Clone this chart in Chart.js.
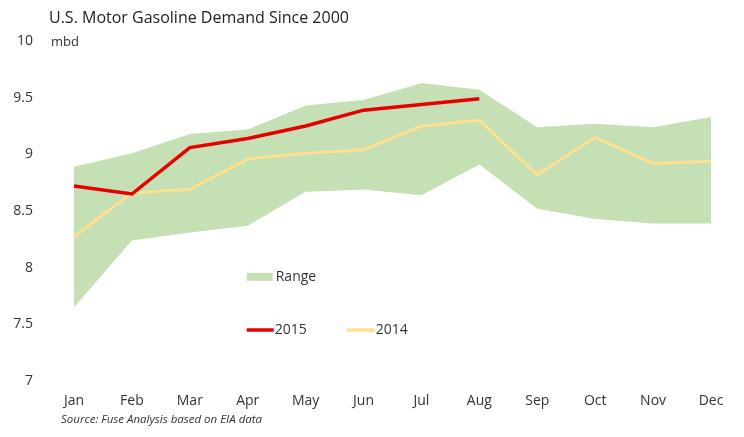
<!DOCTYPE html>
<html>
<head>
<meta charset="utf-8">
<script src="https://cdn.jsdelivr.net/npm/chart.js@4"></script>
<style>
  body { margin: 0; background: #fff; }
  #wrap { position: relative; width: 744px; height: 437px; }
  #title { position: absolute; left: 49px; top: 6px; font: 16px "Open Sans", sans-serif; color: #222; }
  #unit { position: absolute; left: 51px; top: 32px; font: 13px "Open Sans", sans-serif; color: #333; }
  #source { position: absolute; left: 61px; top: 411px; font: italic 11.5px "Open Sans", sans-serif; color: #333; }
</style>
</head>
<body>
<div id="wrap">
  <canvas id="myChart" width="744" height="437"></canvas>
  <div id="title">U.S. Motor Gasoline Demand Since 2000</div>
  <div id="unit">mbd</div>
  <div id="source">Source: Fuse Analysis based on EIA data</div>
</div>
<script>
let months = ["Jan", "Feb", "Mar", "Apr", "May", "Jun", "Jul", "Aug", "Sep", "Oct", "Nov", "Dec"];
let rangeMax = [8.89, 9.01, 9.18, 9.22, 9.43, 9.48, 9.63, 9.57, 9.24, 9.27, 9.24, 9.33];
let rangeMin = [7.65, 8.24, 8.31, 8.37, 8.67, 8.69, 8.64, 8.91, 8.52, 8.43, 8.39, 8.39];
let demand2015 = [8.72, 8.65, 9.06, 9.14, 9.25, 9.39, 9.44, 9.49];
let demand2014 = [8.27, 8.66, 8.69, 8.96, 9.01, 9.04, 9.25, 9.30, 8.82, 9.15, 8.92, 8.94];

let green = "#c5e0b4";
let red = "#e60000";
let yellow = "#ffe08f";
let font = { family: "'Open Sans', sans-serif", size: 14 };

// legend drawn inside the plot area, anchored to the scales
let insideLegend = {
  id: "insideLegend",
  afterDraw(chart) {
    let ctx = chart.ctx;
    let x = chart.scales.x.getPixelForValue(3) - 1;
    let yRange = chart.scales.y.getPixelForValue(7.92);
    let yLines = chart.scales.y.getPixelForValue(7.45);
    ctx.save();
    ctx.font = "14px 'Open Sans', sans-serif";
    ctx.textBaseline = "middle";

    ctx.fillStyle = green;
    ctx.fillRect(x, yRange - 4, 26, 8);
    ctx.fillStyle = "#333";
    ctx.fillText("Range", x + 29, yRange);

    ctx.lineWidth = 3.5;
    ctx.strokeStyle = red;
    ctx.beginPath();
    ctx.moveTo(x, yLines);
    ctx.lineTo(x + 27, yLines);
    ctx.stroke();
    ctx.fillText("2015", x + 28, yLines);

    ctx.strokeStyle = yellow;
    ctx.beginPath();
    ctx.moveTo(x + 100, yLines);
    ctx.lineTo(x + 128, yLines);
    ctx.stroke();
    ctx.fillText("2014", x + 129, yLines);
    ctx.restore();
  },
};

let ctx = document.getElementById("myChart").getContext("2d");
let myChart = new Chart(ctx, {
  type: "line",
  data: {
    labels: months,
    datasets: [
      {
        label: "Range",
        data: rangeMax,
        borderWidth: 0,
        pointRadius: 0,
        backgroundColor: green,
        fill: "+1",
        tension: 0,
        order: 3,
      },
      {
        label: "Range min",
        data: rangeMin,
        borderWidth: 0,
        pointRadius: 0,
        fill: false,
        order: 3,
      },
      {
        label: "2015",
        data: demand2015,
        borderColor: red,
        borderWidth: 3.5,
        pointRadius: 0,
        fill: false,
        order: 0,
      },
      {
        label: "2014",
        data: demand2014,
        borderColor: yellow,
        borderWidth: 3,
        pointRadius: 0,
        fill: false,
        order: 1,
      },
    ],
  },
  options: {
    responsive: false,
    animation: false,
    layout: { padding: { top: 41, right: 33, left: 0, bottom: 0 } },
    plugins: {
      legend: { display: false },
      tooltip: { enabled: false },
    },
    scales: {
      x: {
        offset: false,
        grid: { display: false, drawTicks: false },
        border: { display: false },
        ticks: { color: "#333", font, padding: 12, maxRotation: 0 },
        afterFit(scale) { scale.height = 56; },
      },
      y: {
        min: 7,
        max: 10,
        grid: { display: false, drawTicks: false },
        border: { display: false },
        ticks: {
          stepSize: 0.5,
          color: "#333",
          font,
          padding: 41,
          callback: (v) => String(v),
        },
        afterFit(scale) {
          // the big label gap should not push the plot down
          scale.width = 74;
          scale.paddingTop = 0;
          scale.paddingBottom = 0;
        },
      },
    },
  },
  plugins: [insideLegend],
});
</script>
</body>
</html>
